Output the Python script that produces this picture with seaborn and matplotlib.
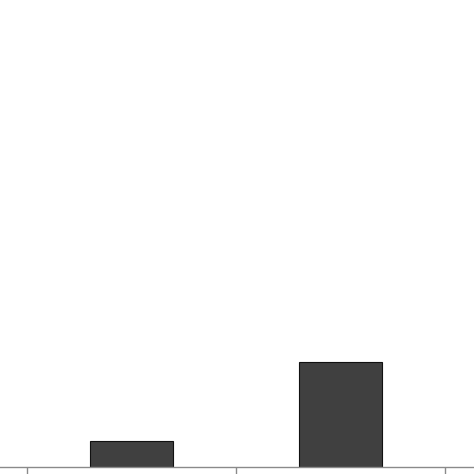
import matplotlib
matplotlib.use("Agg")
import matplotlib.pyplot as plt
import seaborn as sns
import pandas as pd

categories = ["A", "B"]
values = [1.0, 4.0]
tick_positions = [-0.5, 0.5, 1.5]

df = pd.DataFrame({"cat": categories, "val": values})

sns.set_style("white")
fig = plt.figure(figsize=(4.74, 4.74), dpi=100)
ax = fig.add_axes([0, 0.0154, 1, 0.9846])
sns.barplot(data=df, x="cat", y="val", color="#404040", saturation=1,
            width=0.4, edgecolor="#111111", linewidth=0.8, ax=ax)
for p in ax.patches:
    p.set_facecolor("#404040")
ax.set_xlim(-0.629, 1.639)
ax.set_ylim(0, 17.9)
ax.set_xticks(tick_positions)
ax.set_xticklabels([])
ax.set_yticks([])
ax.set_xlabel("")
ax.set_ylabel("")
for s in ["top", "right", "left"]:
    ax.spines[s].set_visible(False)
ax.spines["bottom"].set_color("#8a8a8a")
ax.spines["bottom"].set_linewidth(1.0)
ax.tick_params(axis="x", direction="out", length=7, width=1, color="#8a8a8a", bottom=True)
fig.savefig("out.png", dpi=100)
